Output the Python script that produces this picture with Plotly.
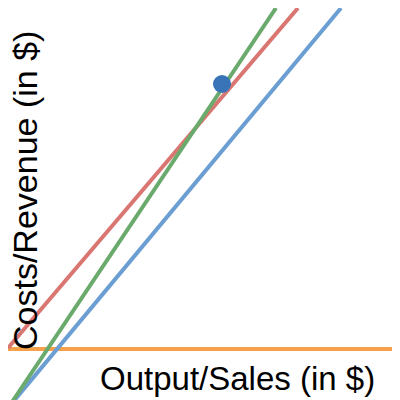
import plotly.graph_objects as go

# data (output units vs $)
fixed_x = [0, 400]; fixed_y = [59, 59]
total_cost_x = [0, 290]; total_cost_y = [60, 400]
revenue_x = [0, 268]; revenue_y = [0, 400]
variable_x = [0, 333]; variable_y = [0, 400]
point_x = [214]; point_y = [324]

fig = go.Figure()
fig.add_trace(go.Scatter(x=fixed_x, y=fixed_y, mode="lines", line=dict(color="#f5a04a", width=4)))
fig.add_trace(go.Scatter(x=variable_x, y=variable_y, mode="lines", line=dict(color="#6b9ed2", width=4)))
fig.add_trace(go.Scatter(x=total_cost_x, y=total_cost_y, mode="lines", line=dict(color="#d97672", width=4)))
fig.add_trace(go.Scatter(x=revenue_x, y=revenue_y, mode="lines", line=dict(color="#6aaa6c", width=4)))
fig.add_trace(go.Scatter(x=point_x, y=point_y, mode="markers", marker=dict(color="#3a74b8", size=18)))

fig.add_annotation(x=229, y=30, text="Output/Sales (in $)", showarrow=False,
                   font=dict(size=33, family="Liberation Sans", color="black"))
fig.add_annotation(x=17, y=217, text="Costs/Revenue (in $)", textangle=-90, showarrow=False,
                   font=dict(size=34, family="Liberation Sans", color="black"))

fig.update_layout(width=400, height=400, margin=dict(l=0, r=0, t=0, b=0, autoexpand=False),
                  plot_bgcolor="white", paper_bgcolor="white", showlegend=False,
                  xaxis=dict(range=[0, 400], showgrid=False, zeroline=False, showticklabels=False,
                             showline=True, linecolor="black", linewidth=3),
                  yaxis=dict(range=[0, 400], showgrid=False, zeroline=False, showticklabels=False,
                             showline=True, linecolor="black", linewidth=3))
fig.write_html("out.html")
